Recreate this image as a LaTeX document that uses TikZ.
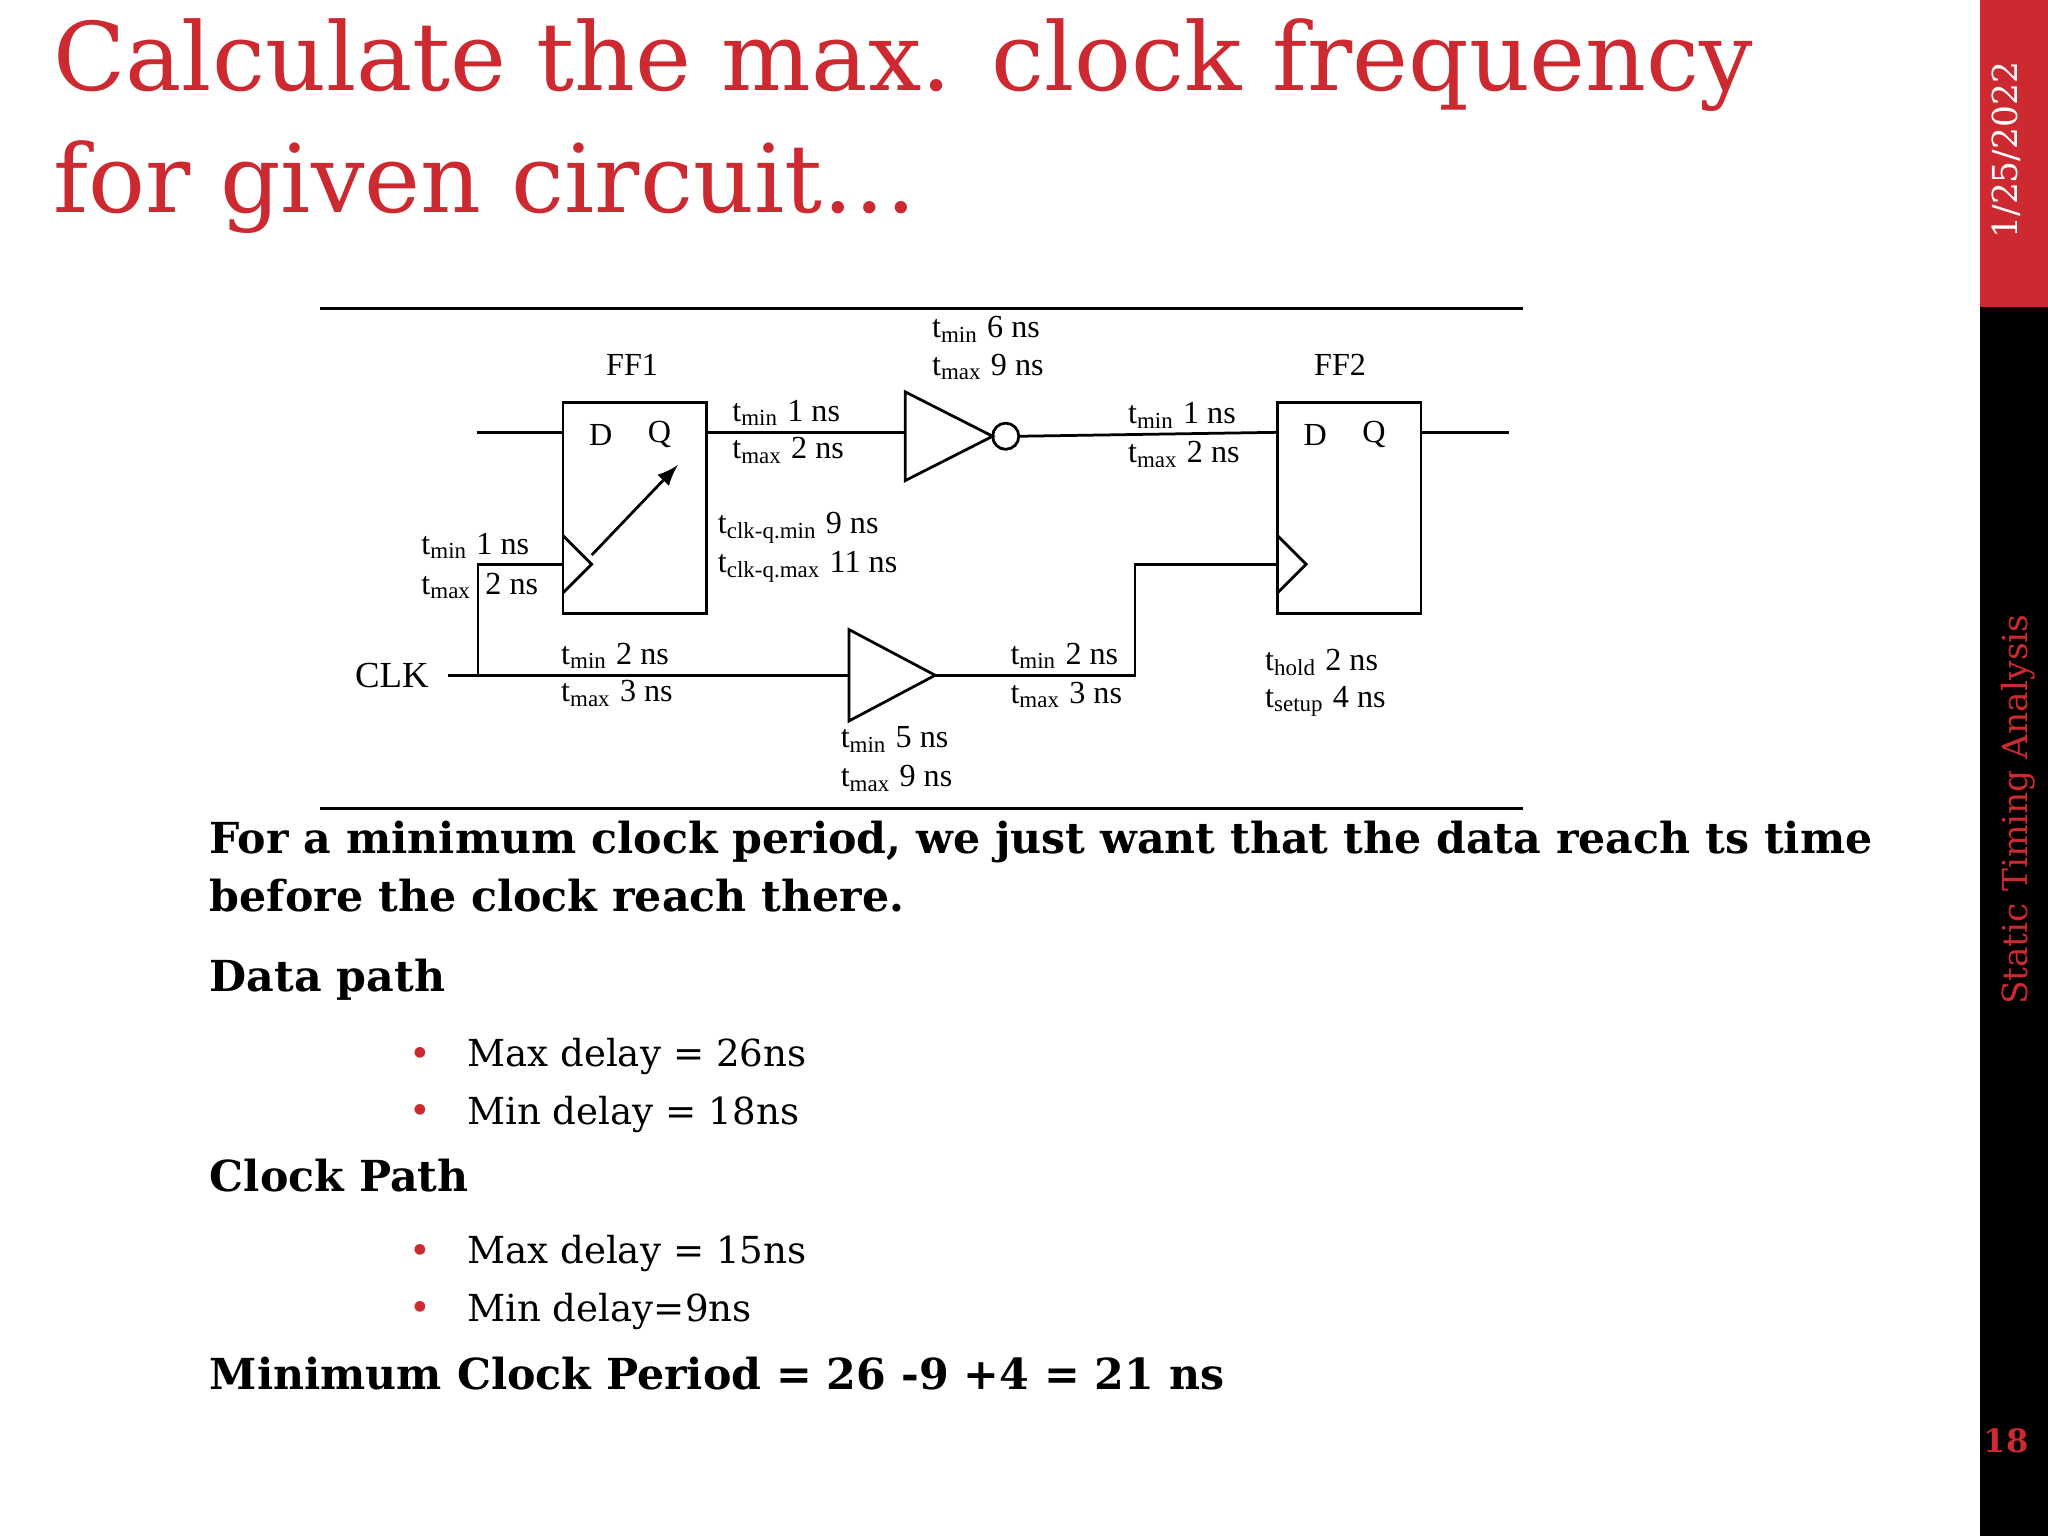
\documentclass[tikz,border=0pt]{standalone}
\usepackage{fontspec}
\setmainfont{DejaVu Serif}
\newfontfamily\tms{Liberation Serif}
\definecolor{sred}{RGB}{204,41,48}
\begin{document}
\begin{tikzpicture}[x=0.01cm,y=-0.01cm,
  wire/.style={line width=0.6pt},
  lbl/.style={anchor=west,inner sep=0,font=\tms\fontsize{7}{8}\selectfont},
  body/.style={anchor=west,inner sep=0,font=\fontsize{9.3}{10}\selectfont\bfseries},
  btxt/.style={anchor=west,inner sep=0,font=\fontsize{8.1}{10}\selectfont},
  bul/.style={anchor=center,inner sep=0,text=sred,font=\fontsize{8}{9}\selectfont}]
\useasboundingbox (0,0) rectangle (1568,1176);
\fill[white] (0,0) rectangle (1568,1176);
% sidebar
\fill[black] (1516,0) rectangle (1568,1176);
\fill[sred] (1516,0) rectangle (1568,235);
\node[rotate=90,text=white,inner sep=0,font=\fontsize{7.5}{8}\selectfont] (date) at (1536,115) {1/25/2022};
\node[rotate=90,text=sred,inner sep=0,font=\fontsize{7.5}{8}\selectfont] (topic) at (1545,620) {Static Timing Analysis};
\node[text=sred,inner sep=0,font=\fontsize{7}{8}\selectfont\bfseries] (pg) at (1536,1103) {18};
% title
\node[anchor=west,inner sep=0,text=sred,font=\fontsize{20.6}{27}\selectfont] (t1) at (40,50) {Calculate the max. clock frequency};
\node[anchor=west,inner sep=0,text=sred,font=\fontsize{20.6}{27}\selectfont] (t2) at (40,143) {for given circuit…};
% rules
\coordinate (ra) at (245,236); \coordinate (rb) at (1166,236);
\coordinate (rc) at (245,619); \coordinate (rd) at (1166,619);
\draw[wire] (ra)--(rb); \draw[wire] (rc)--(rd);
% FFs
\node[draw,wire,minimum width=110*0.01cm,minimum height=162*0.01cm,inner sep=0] (ff1) at (486,389) {};
\node[draw,wire,minimum width=110*0.01cm,minimum height=162*0.01cm,inner sep=0] (ff2) at (1033,389) {};
\node[lbl,anchor=center] (d1) at (460,333) {D};
\node[lbl,anchor=center] (q1) at (505,333) {Q};
\node[lbl,anchor=center] (d2) at (1007,333) {D};
\node[lbl,anchor=center] (q2) at (1052,333) {Q};
\node[lbl,anchor=center] (f1) at (484,279) {FF1};
\node[lbl,anchor=center] (f2) at (1026,279) {FF2};
\draw[wire] (431,410)--(453,432)--(431,454);
\draw[wire] (978,410)--(1000,432)--(978,454);
\draw[wire,-latex] (453,425)--(519,356);
% data wires
\coordinate (in1) at (365,331);
\draw[wire] (in1)--(431,331);
\draw[wire] (541,331)--(693,331);
\draw[wire] (693,300)--(693,368)--(760,334)--cycle;
\node[draw,wire,circle,minimum size=20*0.01cm,inner sep=0] (bub) at (770,334) {};
\draw[wire] (bub.east)--(978,331);
\draw[wire] (1088,331)--(1155,331);
% clock
\node[lbl,anchor=center,font=\tms\fontsize{8}{9}\selectfont] (clk) at (300,517) {CLK};
\draw[wire] (343,517)--(650,517);
\draw[wire] (650,482)--(650,552)--(716,517)--cycle;
\draw[wire] (716,517)--(869,517)--(869,432)--(978,432);
\draw[wire] (366,517)--(366,432)--(431,432);
% labels
\node[lbl] at (560,316) {t\textsubscript{min} 1 ns};
\node[lbl] at (560,345) {t\textsubscript{max} 2 ns};
\node[lbl] at (713,252) {t\textsubscript{min} 6 ns};
\node[lbl] at (713,281) {t\textsubscript{max} 9 ns};
\node[lbl] at (863,318) {t\textsubscript{min} 1 ns};
\node[lbl] at (863,348) {t\textsubscript{max} 2 ns};
\node[lbl] at (549,404) {t\textsubscript{clk-q.min} 9 ns};
\node[lbl] at (549,434) {t\textsubscript{clk-q.max} 11 ns};
\node[lbl] at (322,418) {t\textsubscript{min} 1 ns};
\node[lbl] at (322,450) {t\textsubscript{max}};
\node[lbl] at (371,447) {2 ns};
\node[lbl] at (429,502) {t\textsubscript{min} 2 ns};
\node[lbl] at (429,531) {t\textsubscript{max} 3 ns};
\node[lbl] at (643,566) {t\textsubscript{min} 5 ns};
\node[lbl] at (643,596) {t\textsubscript{max} 9 ns};
\node[lbl] at (773,502) {t\textsubscript{min} 2 ns};
\node[lbl] at (773,532) {t\textsubscript{max} 3 ns};
\node[lbl] at (968,507) {t\textsubscript{hold} 2 ns};
\node[lbl] at (968,537) {t\textsubscript{setup} 4 ns};
% text
\node[body] (p1) at (160,645) {For a minimum clock period, we just want that the data reach ts time};
\node[body] (p2) at (160,686) {before the clock reach there.};
\node[body] (h1) at (160,750) {Data path};
\node[bul] at (322,809) {•}; \node[btxt] at (357,809) {Max delay = 26ns};
\node[bul] at (322,853) {•}; \node[btxt] at (357,853) {Min delay = 18ns};
\node[body] (h2) at (160,900) {Clock Path};
\node[bul] at (322,960) {•}; \node[btxt] at (357,960) {Max delay = 15ns};
\node[bul] at (322,1004) {•}; \node[btxt] at (357,1004) {Min delay=9ns};
\node[body] (h3) at (160,1052) {Minimum Clock Period = 26 -9 +4 = 21 ns};
\end{tikzpicture}
\end{document}
